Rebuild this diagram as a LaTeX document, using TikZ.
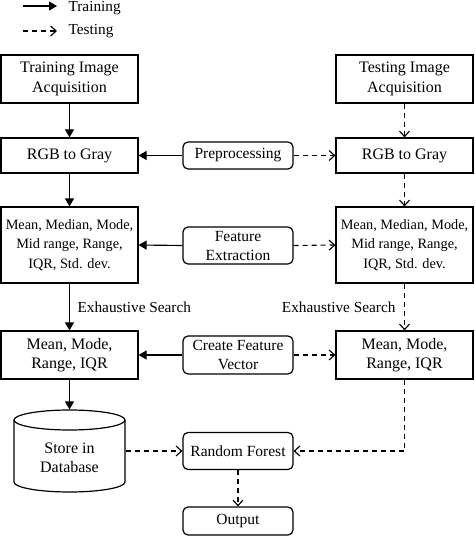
\documentclass[tikz,border=0pt]{standalone}
\usepackage{fontspec}
\setmainfont{Liberation Serif}
\usetikzlibrary{arrows.meta}
\begin{document}
\begin{tikzpicture}[x=1pt,y=-1pt,
  line width=1.15pt,
  box/.style={draw, line width=1.2pt, inner sep=0pt, align=center,
    minimum width=137pt, font=\fontsize{16}{19.5}\selectfont},
  rbox/.style={draw, line width=1.2pt, rounded corners=5pt, inner sep=0pt,
    align=center, minimum width=110pt, font=\fontsize{15.5}{19}\selectfont},
  lbl/.style={inner sep=0pt, font=\fontsize{15.3}{18}\selectfont},
  tr/.style={-{Triangle[length=8pt,width=9pt]}},
  ts/.style={-{Straight Barb[length=5.5pt,width=10pt]}, dash pattern=on 5pt off 4pt},
  dbline/.style={line width=1.2pt}
]
\useasboundingbox (0,0) rectangle (474,559);

% legend
\coordinate (la1) at (23,6);
\coordinate (la2) at (57,6);
\coordinate (lb1) at (23,31);
\coordinate (lb2) at (57,31);
\draw[tr] (la1) -- (la2);
\draw[ts] (lb1) -- (lb2);
\node[lbl, anchor=base west] (legtr) at (68,11.5) {Training};
\node[lbl, anchor=base west] (legts) at (68,35) {Testing};

% left column
\node[box, minimum height=48pt] (l1) at (69.5,79) {Training Image\\Acquisition};
\node[box, minimum height=35pt] (l2) at (69.5,155.5) {RGB to Gray};
\node[box, minimum height=76pt, font=\fontsize{14.3}{19.5}\selectfont] (l3) at (69.5,245)
  {Mean, Median, Mode,\\Mid range, Range,\\IQR, Std. dev.};
\node[box, minimum height=48pt] (l4) at (69.5,355) {Mean, Mode,\\Range, IQR};

% right column
\node[box, minimum height=48pt] (r1) at (404.5,79) {Testing Image\\Acquisition};
\node[box, minimum height=35pt] (r2) at (404.5,155.5) {RGB to Gray};
\node[box, minimum height=76pt, font=\fontsize{14.3}{19.5}\selectfont] (r3) at (404.5,245)
  {Mean, Median, Mode,\\Mid range, Range,\\IQR, Std. dev.};
\node[box, minimum height=48pt] (r4) at (404.5,355) {Mean, Mode,\\Range, IQR};

% middle column
\node[rbox, minimum height=27pt] (pp) at (238,155.5) {Preprocessing};
\node[rbox, minimum height=37pt] (fe) at (238,245.5) {Feature\\Extraction};
\node[rbox, minimum height=38pt] (cf) at (238,355) {Create Feature\\Vector};
\node[rbox, minimum height=37pt] (rf) at (238,451) {Random Forest};
\node[rbox, minimum height=28pt] (out) at (238,521) {Output};

% database cylinder
\node[minimum width=111pt, minimum height=82pt, inner sep=0pt] (db) at (69.5,451) {};
\draw[dbline] (14,420) -- (14,482)
  arc[start angle=180, end angle=360, x radius=55.5pt, y radius=10pt] -- (125,420);
\draw[dbline] (69.5,420) ellipse[x radius=55.5pt, y radius=10pt];
\node[box, draw=none, minimum width=0pt] (dbt) at (69.5,458) {Store in\\Database};

% labels
\node[lbl, anchor=west] (es1) at (77,307) {Exhaustive Search};
\node[lbl, anchor=east] (es2) at (396,307) {Exhaustive Search};

% training arrows
\draw[tr] (l1.south) -- (l2.north);
\draw[tr] (l2.south) -- (l3.north);
\draw[tr] (l3.south) -- (l4.north);
\draw[tr] (l4.south) -- (db.north);
\draw[tr] (pp.west) -- (l2.east);
\draw[tr] (fe.west) -- (l3.east);
\draw[tr] (cf.west) -- (l4.east);

% testing arrows
\draw[ts] (r1.south) -- (r2.north);
\draw[ts] (r2.south) -- (r3.north);
\draw[ts] (r3.south) -- (r4.north);
\draw[ts] (pp.east) -- (r2.west);
\draw[ts] (fe.east) -- (r3.west);
\draw[ts] (cf.east) -- (r4.west);
\draw[ts] (r4.south) |- (rf.east);
\draw[ts] (db.east) -- (rf.west);
\draw[ts] (rf.south) -- (out.north);
\end{tikzpicture}
\end{document}
